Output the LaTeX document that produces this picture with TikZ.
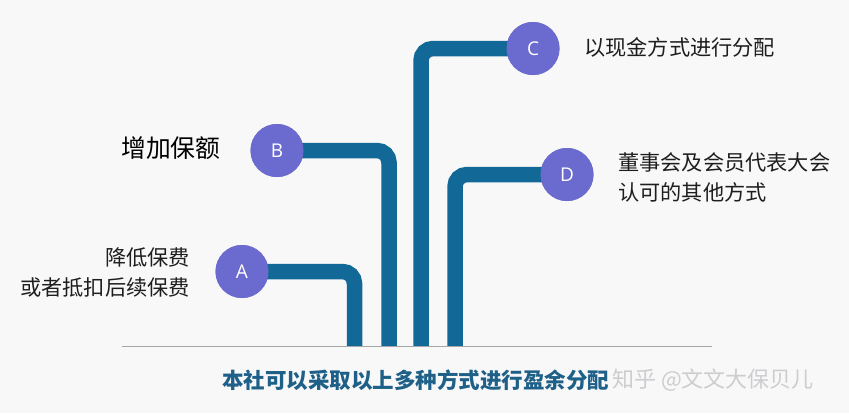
\documentclass[tikz,border=0pt]{standalone}
\usepackage{fontspec}
\setmainfont{Noto Sans CJK SC}
\newfontfamily\latf{Open Sans}
\definecolor{bgc}{RGB}{248,248,249}
\definecolor{barc}{RGB}{18,104,150}
\definecolor{circc}{RGB}{107,106,206}
\definecolor{titlec}{RGB}{30,96,136}
\definecolor{txtc}{RGB}{30,30,30}
\definecolor{wmc}{RGB}{205,205,208}
\tikzset{
  barline/.style={draw=barc,line width=15.5pt,rounded corners=12pt,line cap=butt},
  dot/.style={circle,fill=circc,minimum size=53pt,inner sep=0pt,text=white,font=\latf\fontsize{19}{19}\selectfont},
  lbl/.style={inner sep=0pt,text=txtc,font=\fontsize{21.2}{21.2}\selectfont},
}
\begin{document}
\begin{tikzpicture}[x=1pt,y=-1pt]
\fill[bgc] (0,0) rectangle (849,413);
\useasboundingbox (0,0) rectangle (849,413);
% circles (nodes) and bar ends
\node[dot] (A) at (242,271.5) {A};
\node[dot] (B) at (277,150.5) {B};
\node[dot] (C) at (533,48.5) {C};
\node[dot] (D) at (567,174.5) {D};
\coordinate (eA) at (354.5,346);
\coordinate (eB) at (389,346);
\coordinate (eC) at (421,346);
\coordinate (eD) at (455,346);
\coordinate (L1) at (122,346.5);
\coordinate (L2) at (712,346.5);
% bars
\draw[barline] (A.center) -| (eA);
\draw[barline] (B.center) -| (eB);
\draw[barline] (C.center) -| (eC);
\draw[barline] (D.center) -| (eD);
\draw[draw=gray!70,line width=0.8pt] (L1) -- (L2);
% redraw circles on top
\node[dot] at (A) {A};
\node[dot] at (B) {B};
\node[dot] at (C) {C};
\node[dot] at (D) {D};
% labels
\node[lbl,anchor=east] (tA1) at (190,257) {降低保费};
\node[lbl,anchor=east] (tA2) at (190,287) {或者抵扣后续保费};
\node[lbl,anchor=west,text=black,font=\fontsize{24.8}{24.8}\selectfont] (tB) at (121,148) {增加保额};
\node[lbl,anchor=west] (tC) at (584,47) {以现金方式进行分配};
\node[lbl,anchor=west] (tD1) at (618,162) {董事会及会员代表大会};
\node[lbl,anchor=west] (tD2) at (618,192) {认可的其他方式};
\node[lbl,anchor=west,text=titlec,font=\bfseries\fontsize{21.5}{21.5}\selectfont] (title) at (222,380) {本社可以采取以上多种方式进行盈余分配};
\node[lbl,anchor=west,text=wmc,font=\fontsize{22}{22}\selectfont] (wm) at (612,380) {知乎 @文文大保贝儿};
\end{tikzpicture}
\end{document}
